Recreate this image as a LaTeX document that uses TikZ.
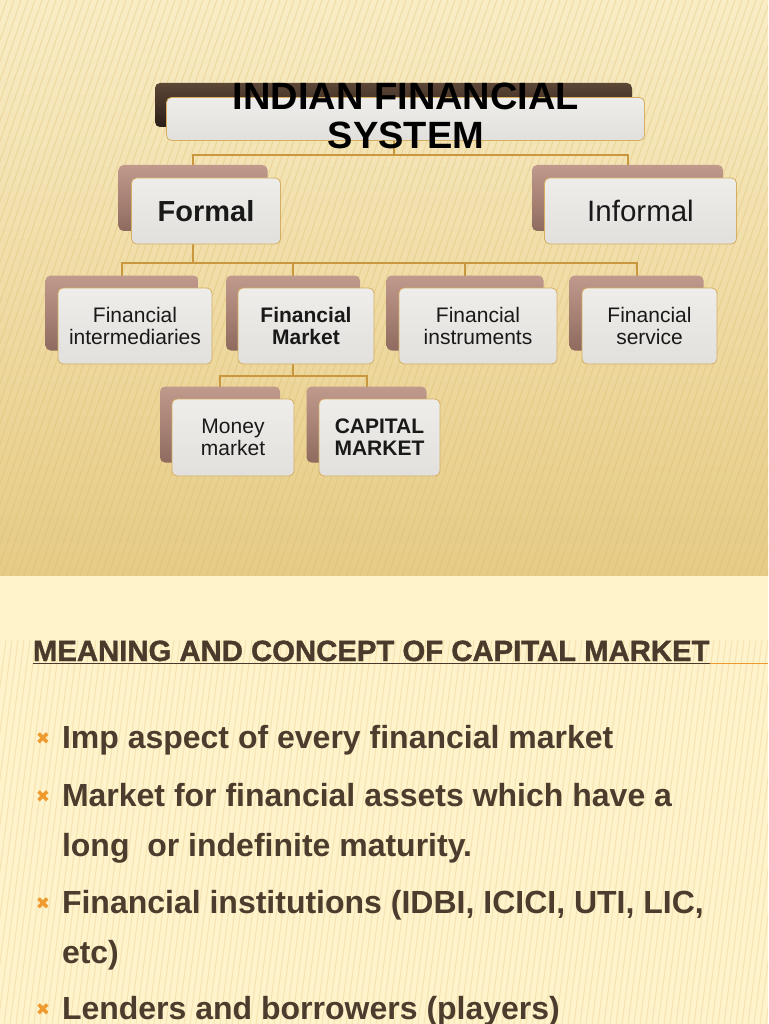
\documentclass[tikz,border=0pt]{standalone}
\usepackage{fontspec}
\setmainfont{Liberation Sans}
\newfontfamily\headfont[FakeBold=1.2]{Liberation Sans Bold}
\newfontfamily\symfont{DejaVu Sans}
\usepackage{tikz}
\usetikzlibrary{positioning,calc}
\definecolor{slidetop}{HTML}{F9EDC6}
\definecolor{slidemid}{HTML}{F4DFA3}
\definecolor{slidebot}{HTML}{E6CB86}
\definecolor{slidetwo}{HTML}{FFF3CC}
\definecolor{stripegold}{HTML}{D9B45E}
\definecolor{backtop}{HTML}{C09A8C}
\definecolor{backbot}{HTML}{8F6B5F}
\definecolor{darktop}{HTML}{5C4636}
\definecolor{darkbot}{HTML}{2B1E17}
\definecolor{fronttop}{HTML}{EEEDEA}
\definecolor{frontbot}{HTML}{E2E0DC}
\definecolor{frontedge}{HTML}{D6AE62}
\definecolor{linkgold}{HTML}{C9973D}
\definecolor{headbrown}{HTML}{4A3A2C}
\definecolor{bulletbrown}{HTML}{4B3C2D}
\definecolor{bulletorange}{HTML}{EE9A2E}
\pgfdeclarelayer{bg}
\pgfdeclarelayer{links}
\pgfsetlayers{bg,links,main}

\begin{document}
\begin{tikzpicture}[x=1pt,y=-1pt,
  every node/.style={inner sep=0pt, outer sep=0pt},
  backbox/.style={rounded corners=5pt, top color=backtop, bottom color=backbot},
  darkbox/.style={rounded corners=5pt, top color=darktop, bottom color=darkbot},
  frontbox/.style={rounded corners=5pt, top color=fronttop, bottom color=frontbot, draw=frontedge, line width=0.8pt,
    align=center, text=black!90, font=\fontsize{21}{22}\selectfont},
  link/.style={draw=linkgold, line width=2pt},
  stripe/.style={draw=stripegold, line width=1pt, opacity=0.3},
  point/.style={text=bulletbrown, font=\bfseries\fontsize{32}{38}\selectfont, anchor=base west},
  bulletmark/.style={text=bulletorange, font=\symfont\fontsize{17}{17}\selectfont}]
  \useasboundingbox (0,0) rectangle (768,1024);
  \begin{pgfonlayer}{bg}
    \fill[top color=slidetop, middle color=slidemid, bottom color=slidebot] (0,0) rectangle (768,576);
    \fill[slidetwo] (0,576) rectangle (768,1024);
    \begin{scope}
      \clip (0,0) rectangle (768,576);
      \foreach \i in {0,7,...,980} \draw[stripe] (\i-200,576) -- (\i,0);
    \end{scope}
    \begin{scope}
      \clip (0,640) rectangle (768,1024);
      \foreach \i in {0,6,...,820} \draw[stripe, opacity=0.25] (\i-50,1024) -- (\i,640);
    \end{scope}
  \end{pgfonlayer}

  \node[darkbox, minimum width=477pt, minimum height=44pt] (sysB) at (393.5,105) {};
  \node[frontbox, minimum width=478pt, minimum height=43pt] (sys) at ([shift={(12,14)}]sysB.center) {};
  \node[font=\bfseries\fontsize{38}{39}\selectfont, align=center] (systxt) at (406,116) {INDIAN FINANCIAL\\SYSTEM};

  \node[backbox, minimum width=149pt, minimum height=66pt] (formalB) at (193,198) {};
  \node[frontbox, minimum width=149pt, minimum height=66pt, font=\bfseries\fontsize{29}{30}\selectfont] (formal) at ([shift={(13,13)}]formalB.center) {Formal};
  \node[backbox, minimum width=191pt, minimum height=66pt] (informalB) at (627.5,198) {};
  \node[frontbox, minimum width=192pt, minimum height=66pt, font=\fontsize{29.5}{30}\selectfont] (informal) at ([shift={(13,13)}]informalB.center) {Informal};

  \node[backbox, minimum width=153pt, minimum height=75pt] (fiB) at (122,313) {};
  \node[frontbox, minimum width=154pt, minimum height=76pt] (fi) at ([shift={(13,13)}]fiB.center) {Financial\\intermediaries};
  \node[backbox, minimum width=134pt, minimum height=75pt] (fmB) at (293,313) {};
  \node[frontbox, minimum width=136pt, minimum height=76pt, font=\bfseries\fontsize{21}{22}\selectfont] (fm) at ([shift={(13,13)}]fmB.center) {Financial\\Market};
  \node[backbox, minimum width=157pt, minimum height=75pt] (finsB) at (465,313) {};
  \node[frontbox, minimum width=158pt, minimum height=76pt] (fins) at ([shift={(13,13)}]finsB.center) {Financial\\instruments};
  \node[backbox, minimum width=134pt, minimum height=75pt] (fservB) at (636.5,313) {};
  \node[frontbox, minimum width=135pt, minimum height=76pt] (fserv) at ([shift={(13,13)}]fservB.center) {Financial\\service};

  \node[backbox, minimum width=120pt, minimum height=76pt] (moneyB) at (220,424.5) {};
  \node[frontbox, minimum width=122pt, minimum height=77pt] (money) at ([shift={(13,13)}]moneyB.center) {Money\\market};
  \node[backbox, minimum width=120pt, minimum height=76pt] (capitalB) at (366.5,424.5) {};
  \node[frontbox, minimum width=121pt, minimum height=77pt, font=\bfseries\fontsize{21}{22}\selectfont] (capital) at ([shift={(13,13)}]capitalB.center) {CAPITAL\\MARKET};

  \begin{pgfonlayer}{links}
    \draw[link] (sysB |- sys.south) -- ++(0,15) coordinate (sysfork);
    \draw[link] (sysfork) -| (formalB.north);
    \draw[link] (sysfork) -| (informalB.north);
    \draw[link] (formalB |- formal.south) -- ++(0,19) coordinate (formalfork);
    \draw[link] (formalfork) -| (fiB.north);
    \draw[link] (formalfork) -| (fmB.north);
    \draw[link] (formalfork) -| (finsB.north);
    \draw[link] (formalfork) -| (fservB.north);
    \draw[link] (fmB |- fm.south) -- ++(0,12) coordinate (fmfork);
    \draw[link] (fmfork) -| (moneyB.north);
    \draw[link] (fmfork) -| (capitalB.north);
  \end{pgfonlayer}

  \coordinate (rightedge) at (768,0);
  \node[anchor=base west, text=headbrown, font=\headfont\fontsize{29.3}{34}\selectfont] (heading) at (33,661) {MEANING AND CONCEPT OF CAPITAL MARKET};
  \draw[headbrown, line width=1.5pt] ([yshift=-2.5pt]heading.base west) -- ([yshift=-2.5pt]heading.base east) coordinate (ulend);
  \draw[bulletorange, line width=1.5pt] (ulend) -- (ulend -| rightedge);

  \node[point] (p1) at (62,748) {Imp aspect of every financial market};
  \node[point] (p2) at (62,806) {Market for financial assets which have a};
  \node[point] (p2b) at (62,856) {long\ \ or indefinite maturity.};
  \node[point] (p3) at (62,913) {Financial institutions (IDBI, ICICI, UTI, LIC,};
  \node[point] (p3b) at (62,963) {etc)};
  \node[point] (p4) at (62,1019) {Lenders and borrowers (players)};
  \foreach \p in {p1,p2,p3,p4}
    \node[bulletmark] at ([xshift=-19pt,yshift=9pt]\p.base west) {✖};
\end{tikzpicture}
\end{document}
